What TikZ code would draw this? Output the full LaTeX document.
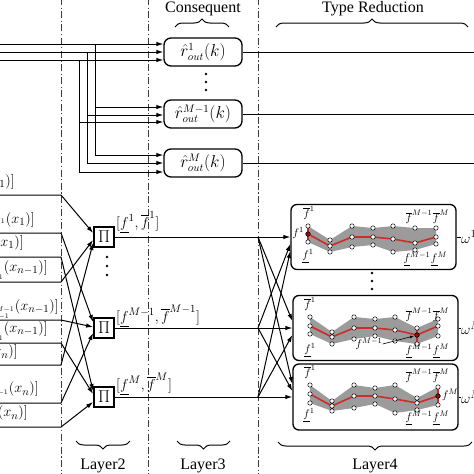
\documentclass[tikz,border=0pt]{standalone}
\usepackage{fontspec}
\setmainfont{Liberation Serif}
\usepackage{amsmath}
\usetikzlibrary{arrows.meta, calc, decorations.pathreplacing}
\definecolor{bandgray}{RGB}{155,155,155}
\definecolor{curvered}{RGB}{205,45,40}
\definecolor{hotred}{RGB}{140,20,20}
\definecolor{gridgray}{RGB}{60,60,60}

\tikzset{
  sig/.style={line width=1pt},
  arr/.style={line width=1pt, -{Latex[length=7pt,width=4.5pt]}},
  layerline/.style={draw=gridgray, line width=0.9pt, dash pattern=on 7pt off 2.5pt on 1.2pt off 2.5pt},
  conbox/.style={draw, line width=1.3pt, rounded corners=7pt, minimum width=78pt, minimum height=28pt, inner sep=0pt, font=\fontsize{16}{16}\selectfont},
  prodbox/.style={draw, line width=1.8pt, minimum size=20pt, inner sep=0pt, font=\fontsize{17}{17}\selectfont},
  redbox/.style={draw, line width=1.3pt, rounded corners=6pt, minimum width=165pt, inner sep=0pt},
  hdr/.style={inner sep=0pt, font=\fontsize{16}{16}\selectfont},
  sigtxt/.style={inner sep=0pt, font=\fontsize{15}{15}\selectfont},
  boxlbl/.style={inner sep=0pt, font=\fontsize{11}{11}\selectfont},
  brc/.style={decorate, decoration={brace, amplitude=8pt}, line width=1pt},
  mfpt/.style={draw=black, fill=white, line width=0.5pt},
  redcurve/.style={draw=curvered, line width=1.6pt},
}

\begin{document}
\begin{tikzpicture}[x=1pt, y=-1pt]
  \useasboundingbox (0,0) rectangle (474,474);
  \clip (0,0) rectangle (474,474);

  % layer borders
  \foreach \lx in {61,148,258}
    \draw[layerline] (\lx,-2) -- (\lx,476);

  % consequent part
  \node[conbox] (r1) at (203,52) {$\hat{r}^{1}_{out}(k)$};
  \node[conbox] (r2) at (203,114) {$\hat{r}^{M-1}_{out}(k)$};
  \node[conbox] (r3) at (203,163) {$\hat{r}^{M}_{out}(k)$};
  \foreach \dy in {74,82,90}
    \fill (206,\dy) circle (1.4pt);

  \coordinate (u1) at (-5,44);
  \coordinate (u2) at (-5,52);
  \coordinate (u3) at (-5,60);
  \coordinate (j1) at (95,44);
  \coordinate (j2) at (87,52);
  \coordinate (j3) at (79,60);
  \draw[arr] (u1) -- ($(r1.west)+(0,-8)$);
  \draw[arr] (u2) -- (r1.west);
  \draw[arr] (u3) -- ($(r1.west)+(0,8)$);
  \draw[arr] (j1) |- ($(r2.west)+(0,-7)$);
  \draw[arr] (j2) |- ($(r2.west)+(0,1)$);
  \draw[arr] (j3) |- ($(r2.west)+(0,8)$);
  \draw[arr] (j1) |- ($(r3.west)+(0,-8)$);
  \draw[arr] (j2) |- (r3.west);
  \draw[arr] (j3) |- ($(r3.west)+(0,9)$);

  \coordinate (q1) at (480,52);
  \coordinate (q2) at (480,114);
  \coordinate (q3) at (480,163);
  \draw[sig] (r1.east) -- (q1);
  \draw[sig] (r2.east) -- (q2);
  \draw[sig] (r3.east) -- (q3);

  % headers
  \node[hdr] (conhd) at (203,8.5) {Consequent};
  \draw[brc] (175,27) -- (229,27);
  \node[hdr] (trhd) at (373,8.5) {Type Reduction};
  \draw[brc] (276,27) -- (468,27);

  % membership grades
  \node[sigtxt, anchor=east] (lb1) at (15,184) {$[\underline{\mu}_{\tilde{F}^{1}_{1}}(x_1),\overline{\mu}_{\tilde{F}^{1}_{1}}(x_1)]$};
  \node[sigtxt, anchor=east] (lb2) at (35,222) {$[\underline{\mu}_{\tilde{F}^{M-1}_{1}}(x_1),\overline{\mu}_{\tilde{F}^{M-1}_{1}}(x_1)]$};
  \node[sigtxt, anchor=east] (lb3) at (24,245) {$[\underline{\mu}_{\tilde{F}^{M}_{1}}(x_1),\overline{\mu}_{\tilde{F}^{M}_{1}}(x_1)]$};
  \node[sigtxt, anchor=east] (lb4) at (48,271) {$[\underline{\mu}_{\tilde{F}^{1}_{n-1}}(x_{n-1}),\overline{\mu}_{\tilde{F}^{1}_{n-1}}(x_{n-1})]$};
  \node[sigtxt, anchor=east] (lb5) at (59,310) {$[\underline{\mu}_{\tilde{F}^{M-1}_{n-1}}(x_{n-1}),\overline{\mu}_{\tilde{F}^{M-1}_{n-1}}(x_{n-1})]$};
  \node[sigtxt, anchor=east] (lb6) at (48,332) {$[\underline{\mu}_{\tilde{F}^{M}_{n-1}}(x_{n-1}),\overline{\mu}_{\tilde{F}^{M}_{n-1}}(x_{n-1})]$};
  \node[sigtxt, anchor=east] (lb7) at (18,355) {$[\underline{\mu}_{\tilde{F}^{1}_{n}}(x_n),\overline{\mu}_{\tilde{F}^{1}_{n}}(x_n)]$};
  \node[sigtxt, anchor=east] (lb8) at (39,392) {$[\underline{\mu}_{\tilde{F}^{M-1}_{n}}(x_n),\overline{\mu}_{\tilde{F}^{M-1}_{n}}(x_n)]$};
  \node[sigtxt, anchor=east] (lb9) at (28,416) {$[\underline{\mu}_{\tilde{F}^{M}_{n}}(x_n),\overline{\mu}_{\tilde{F}^{M}_{n}}(x_n)]$};

  % product nodes
  \node[prodbox] (p1) at (104,237) {$\Pi$};
  \node[prodbox] (p2) at (104,328) {$\Pi$};
  \node[prodbox] (p3) at (104,397) {$\Pi$};
  \node[sigtxt, anchor=west] (f1) at (116,222) {$[\underline{f}^{1},\overline{f}^{1}]$};
  \node[sigtxt, anchor=west] (f2) at (116,316) {$[\underline{f}^{M-1},\overline{f}^{M-1}]$};
  \node[sigtxt, anchor=west] (f3) at (116,384) {$[\underline{f}^{M},\overline{f}^{M}]$};
  \foreach \dy in {257,266,275}
    \fill (107,\dy) circle (1.4pt);

  \foreach \i/\ly/\pn/\dy in {1/195/p1/-4, 2/233/p2/-6, 3/257/p3/-6,
                              4/282/p1/3, 5/320/p2/-1, 6/343/p3/-3,
                              7/365/p1/6, 8/403/p2/5, 9/427/p3/5} {
    \coordinate (in\i) at (-5,\ly);
    \coordinate (bd\i) at (61,\ly);
    \draw[arr] (in\i) -- (bd\i) -- ($(\pn.west)+(0,\dy)$);
  }

  % type reduction boxes
  \node[redbox, minimum height=65pt] (t1) at (373.5,237) {};
  \node[redbox, minimum height=65pt] (t2) at (375.5,328) {};
  \node[redbox, minimum height=66pt] (t3) at (375.5,397) {};
  \foreach \dy in {273,281,289}
    \fill (372,\dy) circle (1.4pt);

  \coordinate (s1) at (258,237);
  \coordinate (s2) at (258,328);
  \coordinate (s3) at (258,397);
  \draw[sig] (p1.east) -- (s1);
  \draw[sig] (p2.east) -- (s2);
  \draw[sig] (p3.east) -- (s3);
  \draw[arr] (s1) -- (t1.west);
  \draw[arr] (s1) -- ($(t2.west)+(0,-7)$);
  \draw[arr] (s1) -- ($(t3.west)+(0,-13)$);
  \draw[arr] (s2) -- ($(t1.west)+(0,7)$);
  \draw[arr] (s2) -- (t2.west);
  \draw[arr] (s2) -- ($(t3.west)+(0,-6)$);
  \draw[arr] (s3) -- ($(t1.west)+(0,14)$);
  \draw[arr] (s3) -- ($(t2.west)+(0,7)$);
  \draw[arr] (s3) -- (t3.west);

  % firing band, rule 1
  \begin{scope}[shift={(291,205)}]
    \fill[bandgray] (17,21) -- (39,35) -- (61,21) -- (82,23) -- (102,21) -- (124,23) -- (145,23)
      -- (145,39) -- (124,45) -- (102,47) -- (82,40) -- (61,42) -- (39,47) -- (17,37) -- cycle;
    \draw[redcurve] (17,29) -- (39,41) -- (61,32) -- (82,32) -- (102,34) -- (124,38) -- (145,32);
    \draw[redcurve] (17,21) -- (17,37);
    \foreach \x/\u/\m/\l in {17/21/29/37, 39/35/41/47, 61/21/32/42, 82/23/32/40,
                             102/21/34/47, 124/23/38/45, 145/23/32/39}
      \filldraw[mfpt] (\x,\u) circle (2.2pt) (\x,\m) circle (2.2pt) (\x,\l) circle (2.2pt);
    \filldraw[mfpt, fill=hotred] (17,29) circle (2.2pt);
    \node[boxlbl] (a1) at (18,8) {$\overline{f}^{1}$};
    \node[boxlbl, anchor=east] (a2) at (13,28) {$f^{1}$};
    \node[boxlbl] (a3) at (17,51) {$\underline{f}^{1}$};
    \node[boxlbl] (a4) at (128,12) {$\overline{f}^{M-1}$};
    \node[boxlbl] (a5) at (150,12) {$\overline{f}^{M}$};
    \node[boxlbl] (a6) at (126,54) {$\underline{f}^{M-1}$};
    \node[boxlbl] (a7) at (148,54) {$\underline{f}^{M}$};
  \end{scope}

  % firing band, rule M-1
  \begin{scope}[shift={(293,296)}]
    \fill[bandgray] (17,21) -- (39,36) -- (61,21) -- (82,23) -- (102,21) -- (124,32) -- (145,23)
      -- (145,40) -- (124,48) -- (102,45) -- (82,40) -- (61,43) -- (39,48) -- (17,38) -- cycle;
    \draw[redcurve] (17,30) -- (39,41) -- (61,32) -- (82,32) -- (102,34) -- (124,39) -- (145,30);
    \draw[redcurve] (124,32) -- (124,48);
    \foreach \x/\u/\m/\l in {17/21/30/38, 39/36/41/48, 61/21/32/43, 82/23/32/40,
                             102/21/34/45, 124/32/39/48, 145/23/30/40}
      \filldraw[mfpt] (\x,\u) circle (2.2pt) (\x,\m) circle (2.2pt) (\x,\l) circle (2.2pt);
    \filldraw[mfpt, fill=hotred] (124,39) circle (2.2pt);
    \node[boxlbl] (b1) at (17,8) {$\overline{f}^{1}$};
    \node[boxlbl] (b2) at (17,54) {$\underline{f}^{1}$};
    \node[boxlbl] (b3) at (126,19) {$\overline{f}^{M-1}$};
    \node[boxlbl] (b4) at (148,19) {$\overline{f}^{M}$};
    \node[boxlbl] (b5) at (126,55) {$\underline{f}^{M-1}$};
    \node[boxlbl] (b6) at (148,55) {$\underline{f}^{M}$};
    \node[boxlbl] (b7) at (76,48) {$f^{M-1}$};
    \draw[line width=0.6pt, -{Latex[length=4pt,width=3pt]}] (b7.east) -- (121,40);
  \end{scope}

  % firing band, rule M
  \begin{scope}[shift={(293,364)}]
    \fill[bandgray] (17,21) -- (39,37) -- (61,21) -- (82,24) -- (102,21) -- (124,34) -- (145,23)
      -- (145,41) -- (124,46) -- (102,49) -- (82,40) -- (61,44) -- (39,47) -- (17,39) -- cycle;
    \draw[redcurve] (17,30) -- (39,42) -- (61,32) -- (82,32) -- (102,35) -- (124,39) -- (145,32);
    \draw[redcurve] (145,23) -- (145,41);
    \foreach \x/\u/\m/\l in {17/21/30/39, 39/37/42/47, 61/21/32/44, 82/24/32/40,
                             102/21/35/49, 124/34/39/46, 145/23/32/41}
      \filldraw[mfpt] (\x,\u) circle (2.2pt) (\x,\m) circle (2.2pt) (\x,\l) circle (2.2pt);
    \filldraw[mfpt, fill=hotred] (145,32) circle (2.2pt);
    \node[boxlbl] (c1) at (17,8) {$\overline{f}^{1}$};
    \node[boxlbl] (c2) at (16,51) {$\underline{f}^{1}$};
    \node[boxlbl] (c3) at (126,12) {$\overline{f}^{M-1}$};
    \node[boxlbl] (c4) at (148,12) {$\overline{f}^{M}$};
    \node[boxlbl] (c5) at (126,54) {$\underline{f}^{M-1}$};
    \node[boxlbl] (c6) at (148,54) {$\underline{f}^{M}$};
    \node[boxlbl, anchor=west] (c7) at (149,31) {$f^{M}$};
  \end{scope}

  % weights
  \node[sigtxt, anchor=west] (w1) at (461,237) {$\omega^{1}$};
  \node[sigtxt, anchor=west] (w2) at (461,328) {$\omega^{M-1}$};
  \node[sigtxt, anchor=west] (w3) at (461,397) {$\omega^{M}$};
  \draw[sig] (t1.east) -- (w1.west);
  \draw[sig] (t2.east) -- (w2.west);
  \draw[sig] (t3.east) -- (w3.west);

  % layer names
  \draw[brc] (130,441) -- (76,441);
  \node[hdr] (ly2) at (103,466) {Layer2};
  \draw[brc] (230,441) -- (177,441);
  \node[hdr] (ly3) at (203,466) {Layer3};
  \draw[brc] (472,442) -- (278,442);
  \node[hdr] (ly4) at (375,466) {Layer4};
\end{tikzpicture}
\end{document}
